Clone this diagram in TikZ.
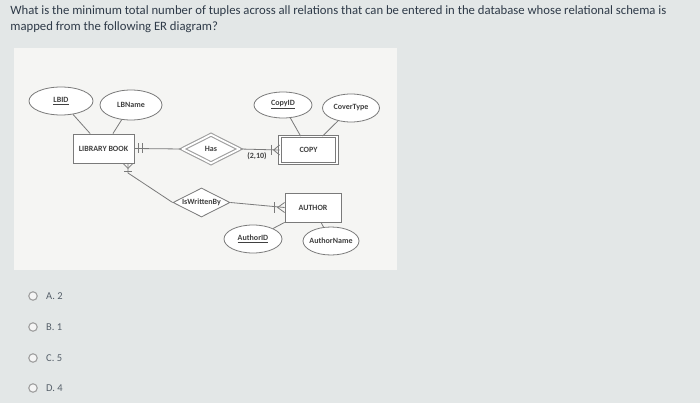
\documentclass[tikz,border=0pt]{standalone}
\usepackage{fontspec}
\setmainfont{Carlito}
\usetikzlibrary{positioning,shapes.geometric}
\definecolor{pagebg}{HTML}{E3E7E7}
\definecolor{panelbg}{HTML}{F5F5F3}
\definecolor{erline}{HTML}{7A7A7A}
\definecolor{ertext}{HTML}{404040}
\definecolor{qtext}{HTML}{2E3A48}
\definecolor{opttext}{HTML}{56606A}

\begin{document}
\begin{tikzpicture}[
    x=1pt, y=-1pt, line width=0.8pt,
    erfont/.style={font=\fontsize{8}{9}\selectfont\bfseries, text=ertext},
    named/.style={label={[erfont, inner sep=0]center:#1}},
    entity/.style={rectangle, draw=erline, fill=white, minimum width=61, minimum height=29, inner sep=0},
    weak/.style={entity, double=white, double distance=1.6pt},
    attr/.style={ellipse, draw=erline, fill=white, inner sep=0},
    rel/.style={diamond, draw=erline, fill=white, inner sep=0, minimum width=57, minimum height=29},
    idrel/.style={rel, draw=gray!75, double=white, double distance=1.8pt, line width=1.1pt},
    conn/.style={draw=erline, line width=0.8pt},
    radio/.style={circle, draw=gray!75, line width=1.1pt, fill=white!92!gray, minimum size=8.5, inner sep=0},
    opt/.style={font=\fontsize{10.5}{12}\selectfont, text=opttext, inner sep=0},
  ]

  \fill[pagebg] (0,0) rectangle (700,403);
  \fill[panelbg] (14,48) rectangle (397,270);
  \useasboundingbox (0,0) rectangle (700,403);

  \node[anchor=north west, align=left, text=qtext, font=\fontsize{12.7}{16}\selectfont, inner sep=0] (question) at (10,5)
    {What is the minimum total number of tuples across all relations that can be entered in the database whose relational schema is\\
     mapped from the following ER diagram?};

  % entities and relationships
  \node[entity, named=LIBRARY BOOK] (libbook) at (103.5,148.5) {};
  \node[weak, minimum width=57, minimum height=27, named=COPY] (copy) at (308.5,150) {};
  \node[entity, minimum width=56, named=AUTHOR] (author) at (313,207.5) {};
  \node[idrel, named=Has] (has) at (211,149) {};
  \node[rel, named=IsWrittenBy] (written) at (201.5,202.5) {};

  % attributes
  \node[attr, minimum width=64, minimum height=28, named=\underline{LBID}] (lbid) at (61,101) {};
  \node[attr, minimum width=62, minimum height=30, named=LBName] (lbname) at (131,105) {};
  \node[attr, minimum width=58, minimum height=26, named=\underline{CopyID}] (copyid) at (283,105) {};
  \node[attr, minimum width=57, minimum height=28, named=CoverType] (covertype) at (351,108) {};
  \node[attr, minimum width=58, minimum height=28, named=\underline{AuthorID}] (authorid) at (253,239) {};
  \node[attr, minimum width=56, minimum height=28, named=AuthorName] (authorname) at (331,241) {};

  \draw[conn] (lbid) -- (libbook);
  \draw[conn] (lbname) -- (libbook);
  \draw[conn] (copyid) -- (copy);
  \draw[conn] (covertype) -- (copy);
  \draw[conn] (authorid) -- (author);
  \draw[conn] (authorname) -- (author);

  \draw[conn] (libbook.east) -- (has.west);
  \draw[conn] (has.east) -- (copy.west);
  \node[erfont, inner sep=0] (card) at (257,156) {(2,10)};
  \coordinate (bend) at (128,173);
  \draw[conn] ([xshift=24.5]libbook.south) -- (bend) -- (written.west);
  \draw[conn] (written.east) -- (author.west);

  % crow's feet
  \draw[conn] ([xshift=4]libbook.east) ++(0,-5) -- ++(0,10);
  \draw[conn] ([xshift=8]libbook.east) ++(0,-5) -- ++(0,10);
  \draw[conn] ([xshift=-8]copy.west) ++(0,-5) -- ++(0,10);
  \draw[conn] ([yshift=5]copy.west) -- ([xshift=-6]copy.west) -- ([yshift=-5]copy.west);
  \draw[conn] ([xshift=-10]author.west) ++(0,-5) -- ++(0,10);
  \draw[conn] ([yshift=5]author.west) -- ([xshift=-7]author.west) -- ([yshift=-5]author.west);
  \draw[conn] ([xshift=19.5]libbook.south) -- ([xshift=24.5,yshift=-5]libbook.south) -- ([xshift=29.5]libbook.south);
  \draw[conn] ([xshift=20.5,yshift=-8]libbook.south) -- ([xshift=28.5,yshift=-8]libbook.south);

  % answer options
  \foreach \lbl/\yy [count=\i] in {A. 2/296, B. 1/327, C. 5/358, D. 4/388} {
    \node[radio] (r\i) at (33,\yy) {};
    \node[opt, right=8 of r\i] (o\i) {\lbl};
  }

\end{tikzpicture}
\end{document}
